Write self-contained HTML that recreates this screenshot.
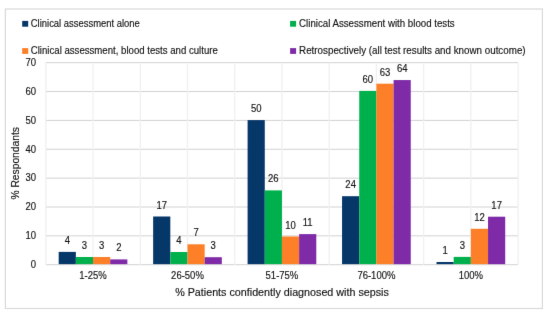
<!DOCTYPE html><html><head><meta charset="utf-8"><style>html,body{margin:0;padding:0;background:#fff;}svg{display:block;}#w{width:550px;height:313px;overflow:hidden;}</style></head><body><div id="w">
<svg width="550" height="313" viewBox="0 0 550 313" font-family="Liberation Sans, sans-serif">
<defs><filter id="bl" x="0" y="0" width="550" height="313" filterUnits="userSpaceOnUse" color-interpolation-filters="sRGB"><feConvolveMatrix order="3" kernelMatrix="0 1 0 1 12 1 0 1 0" edgeMode="duplicate" preserveAlpha="true"/></filter></defs><g filter="url(#bl)">
<rect x="0" y="0" width="550" height="313" fill="#fff"/>
<rect x="5.4" y="9" width="537" height="299.5" fill="none" stroke="#d9d9d9" stroke-width="1.2"/>
<path d="M45.8 264.7H518.1 M45.8 235.84H518.1 M45.8 206.99H518.1 M45.8 178.13H518.1 M45.8 149.27H518.1 M45.8 120.41H518.1 M45.8 91.56H518.1 M45.8 62.7H518.1" stroke="#d2d2d2" stroke-width="1" fill="none"/>
<path d="M45.8 62.7V264.7 M93.03 62.7V264.7 M140.26 62.7V264.7 M187.49 62.7V264.7 M234.72 62.7V264.7 M281.95 62.7V264.7 M329.18 62.7V264.7 M376.41 62.7V264.7 M423.64 62.7V264.7 M470.87 62.7V264.7 M518.1 62.7V264.7" stroke="#f0f0f0" stroke-width="1.3" fill="none"/>
<rect x="58.68" y="251.90" width="17.17" height="12.25" fill="#053769"/>
<rect x="153.14" y="216.50" width="17.17" height="47.65" fill="#053769"/>
<rect x="247.60" y="120.10" width="17.17" height="144.05" fill="#053769"/>
<rect x="342.06" y="196.20" width="17.17" height="67.95" fill="#053769"/>
<rect x="436.52" y="262.00" width="17.17" height="2.15" fill="#053769"/>
<rect x="75.86" y="257.00" width="17.17" height="7.15" fill="#00b04c"/>
<rect x="170.32" y="252.00" width="17.17" height="12.15" fill="#00b04c"/>
<rect x="264.78" y="190.40" width="17.17" height="73.75" fill="#00b04c"/>
<rect x="359.24" y="90.90" width="17.17" height="173.25" fill="#00b04c"/>
<rect x="453.70" y="256.90" width="17.17" height="7.25" fill="#00b04c"/>
<rect x="93.03" y="257.00" width="17.17" height="7.15" fill="#fd7f27"/>
<rect x="187.49" y="244.30" width="17.17" height="19.85" fill="#fd7f27"/>
<rect x="281.95" y="236.50" width="17.17" height="27.65" fill="#fd7f27"/>
<rect x="376.41" y="83.70" width="17.17" height="180.45" fill="#fd7f27"/>
<rect x="470.87" y="228.80" width="17.17" height="35.35" fill="#fd7f27"/>
<rect x="110.20" y="259.40" width="17.17" height="4.75" fill="#7f2ba8"/>
<rect x="204.66" y="257.20" width="17.17" height="6.95" fill="#7f2ba8"/>
<rect x="299.12" y="234.10" width="17.17" height="30.05" fill="#7f2ba8"/>
<rect x="393.58" y="80.06" width="17.17" height="184.09" fill="#7f2ba8"/>
<rect x="488.04" y="216.70" width="17.17" height="47.45" fill="#7f2ba8"/>
<g fill="#151515" stroke="#151515" stroke-width="0.15">
<text x="67.27" y="243.90" font-size="10.0" text-anchor="middle" textLength="5.28" lengthAdjust="spacingAndGlyphs">4</text>
<text x="161.73" y="208.50" font-size="10.0" text-anchor="middle" textLength="10.57" lengthAdjust="spacingAndGlyphs">17</text>
<text x="256.19" y="112.10" font-size="10.0" text-anchor="middle" textLength="10.57" lengthAdjust="spacingAndGlyphs">50</text>
<text x="350.65" y="188.20" font-size="10.0" text-anchor="middle" textLength="10.57" lengthAdjust="spacingAndGlyphs">24</text>
<text x="445.11" y="254.00" font-size="10.0" text-anchor="middle" textLength="5.28" lengthAdjust="spacingAndGlyphs">1</text>
<text x="84.44" y="249.00" font-size="10.0" text-anchor="middle" textLength="5.28" lengthAdjust="spacingAndGlyphs">3</text>
<text x="178.90" y="244.00" font-size="10.0" text-anchor="middle" textLength="5.28" lengthAdjust="spacingAndGlyphs">4</text>
<text x="273.36" y="182.40" font-size="10.0" text-anchor="middle" textLength="10.57" lengthAdjust="spacingAndGlyphs">26</text>
<text x="367.82" y="82.90" font-size="10.0" text-anchor="middle" textLength="10.57" lengthAdjust="spacingAndGlyphs">60</text>
<text x="462.28" y="248.90" font-size="10.0" text-anchor="middle" textLength="5.28" lengthAdjust="spacingAndGlyphs">3</text>
<text x="101.62" y="249.00" font-size="10.0" text-anchor="middle" textLength="5.28" lengthAdjust="spacingAndGlyphs">3</text>
<text x="196.08" y="236.30" font-size="10.0" text-anchor="middle" textLength="5.28" lengthAdjust="spacingAndGlyphs">7</text>
<text x="290.54" y="228.50" font-size="10.0" text-anchor="middle" textLength="10.57" lengthAdjust="spacingAndGlyphs">10</text>
<text x="385.00" y="75.70" font-size="10.0" text-anchor="middle" textLength="10.57" lengthAdjust="spacingAndGlyphs">63</text>
<text x="479.46" y="220.80" font-size="10.0" text-anchor="middle" textLength="10.57" lengthAdjust="spacingAndGlyphs">12</text>
<text x="118.79" y="251.40" font-size="10.0" text-anchor="middle" textLength="5.28" lengthAdjust="spacingAndGlyphs">2</text>
<text x="213.25" y="249.20" font-size="10.0" text-anchor="middle" textLength="5.28" lengthAdjust="spacingAndGlyphs">3</text>
<text x="307.71" y="226.10" font-size="10.0" text-anchor="middle" textLength="9.86" lengthAdjust="spacingAndGlyphs">11</text>
<text x="402.17" y="72.06" font-size="10.0" text-anchor="middle" textLength="10.57" lengthAdjust="spacingAndGlyphs">64</text>
<text x="496.63" y="208.70" font-size="10.0" text-anchor="middle" textLength="10.57" lengthAdjust="spacingAndGlyphs">17</text>
<text x="36.00" y="268.00" font-size="10.0" text-anchor="end" textLength="5.28" lengthAdjust="spacingAndGlyphs">0</text>
<text x="36.00" y="239.14" font-size="10.0" text-anchor="end" textLength="10.57" lengthAdjust="spacingAndGlyphs">10</text>
<text x="36.00" y="210.29" font-size="10.0" text-anchor="end" textLength="10.57" lengthAdjust="spacingAndGlyphs">20</text>
<text x="36.00" y="181.43" font-size="10.0" text-anchor="end" textLength="10.57" lengthAdjust="spacingAndGlyphs">30</text>
<text x="36.00" y="152.57" font-size="10.0" text-anchor="end" textLength="10.57" lengthAdjust="spacingAndGlyphs">40</text>
<text x="36.00" y="123.71" font-size="10.0" text-anchor="end" textLength="10.57" lengthAdjust="spacingAndGlyphs">50</text>
<text x="36.00" y="94.86" font-size="10.0" text-anchor="end" textLength="10.57" lengthAdjust="spacingAndGlyphs">60</text>
<text x="36.00" y="66.00" font-size="10.0" text-anchor="end" textLength="10.57" lengthAdjust="spacingAndGlyphs">70</text>
<text x="93.03" y="279.00" font-size="10.0" text-anchor="middle" textLength="27.46" lengthAdjust="spacingAndGlyphs">1-25%</text>
<text x="187.49" y="279.00" font-size="10.0" text-anchor="middle" textLength="32.74" lengthAdjust="spacingAndGlyphs">26-50%</text>
<text x="281.95" y="279.00" font-size="10.0" text-anchor="middle" textLength="32.74" lengthAdjust="spacingAndGlyphs">51-75%</text>
<text x="376.41" y="279.00" font-size="10.0" text-anchor="middle" textLength="38.03" lengthAdjust="spacingAndGlyphs">76-100%</text>
<text x="470.87" y="279.00" font-size="10.0" text-anchor="middle" textLength="24.30" lengthAdjust="spacingAndGlyphs">100%</text>
<text x="282" y="296" font-size="10.0" text-anchor="middle" textLength="213.7" lengthAdjust="spacingAndGlyphs">% Patients confidently diagnosed with sepsis</text>
<text transform="translate(18.6 163.3) rotate(-90)" x="0" y="0" font-size="10.0" text-anchor="middle" textLength="72.6" lengthAdjust="spacingAndGlyphs">% Respondants</text>
<text x="30.8" y="26.5" font-size="10.0" textLength="109" lengthAdjust="spacingAndGlyphs">Clinical assessment alone</text>
<text x="299.1" y="26.5" font-size="10.0" textLength="155.6" lengthAdjust="spacingAndGlyphs">Clinical Assessment with blood tests</text>
<text x="30.8" y="53.6" font-size="10.0" textLength="187" lengthAdjust="spacingAndGlyphs">Clinical assessment, blood tests and culture</text>
<text x="299.1" y="53.6" font-size="10.0" textLength="226.5" lengthAdjust="spacingAndGlyphs">Retrospectively (all test results and known outcome)</text>
</g>
<rect x="22.2" y="20.9" width="6.0" height="5.8" fill="#053769"/>
<rect x="290.1" y="20.9" width="6.0" height="5.8" fill="#00b04c"/>
<rect x="22.2" y="48.1" width="6.0" height="5.8" fill="#fd7f27"/>
<rect x="290.1" y="48.1" width="6.0" height="5.8" fill="#7f2ba8"/>
</g></svg></div></body></html>
